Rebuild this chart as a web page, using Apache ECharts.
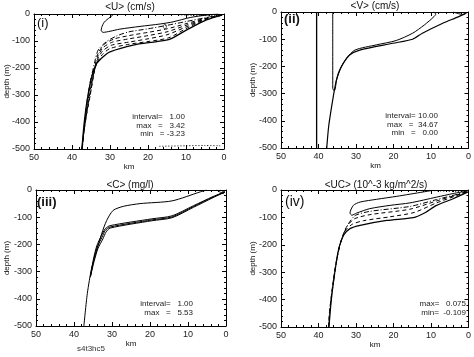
<!DOCTYPE html>
<html><head><meta charset="utf-8">
<script src="https://cdn.jsdelivr.net/npm/echarts@6/dist/echarts.min.js"></script>
<style>html,body{margin:0;padding:0;background:#fff}#c{width:474px;height:357px}</style>
</head><body><div id="c"></div>
<script>
// ---- axis ticks ----
const kmTicks = [50, 40, 30, 20, 10, 0];
const depthTicks = [0, -100, -200, -300, -400, -500];

// ---- panel titles / notes ----
const panelTitles = ['<U> (cm/s)', '<V> (cm/s)', '<C> (mg/l)', '<UC> (10^-3 kg/m^2/s)'];
const panelTags = ['(i)', '(ii)', '(iii)', '(iv)'];
const notesU = ['interval=   1.00', 'max   =   3.42', 'min   = -3.23'];
const notesV = ['interval= 10.00', 'max   =  34.67', 'min   =   0.00'];
const notesC = ['interval=   1.00', 'max   =   5.53'];
const notesUC = ['max=   0.075', 'min=  -0.109'];

// ---- panel (i) <U> contours: [km, depth m] ----
const U_zero = [[28.9,0],[30,-12],[31.5,-30],[32.2,-50],[32.3,-62],[31.8,-68],[30,-64],[27.4,-56],[22.1,-46],[16.8,-37],[13.4,-29],[8.9,-13],[4.6,-4],[1.5,0]];
const U_c1 = [[0.5,-3],[5,-14],[10,-28],[15,-42],[20,-55],[25,-66],[28.2,-81],[30.9,-102],[33.1,-133],[33.9,-170],[34.7,-220],[35.3,-257],[36,-320],[36.7,-400],[37.3,-500]];
const U_c2 = [[0.5,-4],[5,-16],[10,-36],[15,-55],[20,-68],[25,-80],[28.8,-92],[31.5,-112],[33.1,-145],[33.8,-180],[34.5,-230],[35.3,-280],[36,-340],[36.7,-410],[37.3,-500]];
const U_c3 = [[0.5,-4],[5,-18],[10,-42],[15,-66],[20,-80],[25,-92],[29.3,-104],[31.8,-124],[33.2,-158],[33.8,-190],[34.5,-240],[35.2,-300],[36,-360],[36.8,-430],[37.4,-500]];
const U_c4 = [[0.5,-4],[5,-19],[10,-48],[15,-77],[20,-92],[25,-104],[29.7,-116],[32,-138],[33.3,-170],[34,-205],[34.6,-250],[35.4,-310],[36.3,-380],[37,-450],[37.4,-500]];
const U_c5 = [[0.5,-4],[5,-21],[10,-54],[14.5,-88],[20,-102],[25,-112],[30,-128],[32,-150],[33.4,-180],[34.2,-215],[34.9,-260],[35.6,-320],[36.4,-390],[37.1,-460],[37.4,-500]];
const U_c6 = [[0.6,-4],[4.6,-22],[9.8,-59],[14.2,-93],[17.7,-102],[23.9,-115],[30,-140],[31.8,-158],[33.5,-183],[34.8,-232],[36,-319],[36.8,-405],[37.4,-500]];
const U_top = [[12,-3],[8,-5],[4,-6],[1,-4]];
const U_bottom = [[17,-490],[10,-488],[5,-487],[1,-488]];

// ---- panel (ii) <V> contours ----
const V_wall = [[40.5,0],[40.5,-500]];
const V_c1 = [[36.2,0],[36.2,-150],[36.2,-280],[35.8,-290],[35.5,-280],[35.2,-250],[33.9,-201],[32.5,-170],[30.3,-140],[24.6,-121],[19.3,-105],[14.9,-78],[11.8,-48],[9.2,-17],[8.7,-7],[9.4,0]];
const V_c2 = [[0.8,-5],[2.6,-17],[7,-42],[12.3,-78],[14.9,-100],[20.2,-115],[29,-140],[31.7,-158],[33.4,-189],[34.7,-225],[35.6,-275],[36.5,-348],[37.3,-422],[37.8,-500]];
const V_top = [[0.3,-2],[1.5,-9],[3,-5],[4,0]];

// ---- panel (iii) <C> contours ----
const C_c1 = [[5.1,0],[6.8,-7],[14.2,-40],[22.6,-50],[27,-60],[29.7,-75],[31.4,-112],[32.7,-160],[34,-222],[35.3,-283],[36.5,-381],[37.4,-500]];
const C_c2 = [[0.3,-7],[3.4,-24],[8.6,-58],[14.2,-95],[19.5,-106],[30.5,-131],[31.8,-143],[32.8,-168],[34,-205],[34.9,-255],[35.7,-320]];
const C_c3 = [[0.3,-7],[3.4,-26],[8.6,-61],[14.2,-99],[19.5,-110],[30.5,-136],[31.8,-149],[32.6,-173],[33.9,-210],[34.8,-258],[35.7,-320]];
const C_c4 = [[0.3,-8],[3.4,-28],[8.6,-64],[14.2,-102],[19.5,-113],[30.5,-140],[31.6,-155],[32.4,-180],[33.7,-215],[34.7,-262],[35.7,-320]];
const C_top1 = [[2.5,0],[1.5,-8],[0.5,-14]];
const C_top2 = [[1.5,0],[0.8,-5],[0.3,-8]];

// ---- panel (iv) <UC> contours ----
const UC_loop = [[9.4,-1],[12,-7],[19.1,-23],[24.5,-34],[28.9,-44],[30.7,-56],[31.6,-84],[31.1,-92],[29.8,-84],[26.3,-68],[20.9,-56],[15.6,-47],[8.5,-26],[4.1,-13],[0.5,-4]];
const UC_c1 = [[0.5,-7],[8.5,-35],[15.6,-60],[26.3,-78],[30.2,-93],[32,-123],[33.3,-160],[34.4,-208],[35.3,-269],[36.2,-354],[36.9,-439],[37.3,-500]];
const UC_c2 = [[0.5,-7],[8.5,-40],[15.6,-70],[26.3,-90],[30.4,-105],[32.3,-130],[33.5,-165],[34.5,-210],[35.4,-272],[36.3,-356],[37,-440],[37.3,-500]];
const UC_c3 = [[0.4,-7],[8.5,-47],[14.5,-82],[21,-98],[28,-112],[31,-125],[32.8,-148],[33.8,-180],[34.6,-218],[35.5,-285],[36.4,-370],[37.1,-450],[37.3,-500]];
const UC_c4 = [[0.1,-7],[4.1,-32],[8.5,-56],[12,-86],[14.7,-101],[21.8,-111],[28.9,-129],[31.6,-141],[33.3,-165],[34.7,-220],[35.7,-305],[36.6,-403],[37.2,-500]];
const UC_top = [[10,-2],[6,-4],[3,-6],[0.5,-3]];

// ---- layout ----
const grids = [
  {left: 34, top: 14, width: 190, height: 135},
  {left: 281, top: 12, width: 189, height: 136},
  {left: 36, top: 190, width: 190, height: 136},
  {left: 281, top: 190, width: 188, height: 137}
];
const titlePos = [[130, 2], [375, 1], [130, 180], [376, 180]];
const depthLabelX = [3, 249, 3, 249];
const FONT = 'Liberation Sans';
const SOLID = 'solid', DASH = [4, 3], DASHDOT = [5, 2, 1, 2], DOT = [1, 2];

const xAxes = [], yAxes = [];
grids.forEach((g, i) => {
  const base = {
    type: 'value', gridIndex: i, splitLine: {show: false},
    axisLine: {show: true, onZero: false, lineStyle: {color: '#000', width: 1}},
    axisTick: {show: true, inside: true, length: 4, lineStyle: {color: '#000'}},
    minorTick: {show: true, splitNumber: 5, length: 2, lineStyle: {color: '#000'}}
  };
  const lbl = {color: '#222', fontSize: 9, fontFamily: FONT, margin: 4};
  xAxes.push(Object.assign({}, base, {position: 'bottom', min: 0, max: 50, interval: 10, inverse: true, axisLabel: lbl}));
  xAxes.push(Object.assign({}, base, {position: 'top', min: 0, max: 50, interval: 10, inverse: true, axisLabel: {show: false}}));
  yAxes.push(Object.assign({}, base, {position: 'left', min: -500, max: 0, interval: 100, axisLabel: lbl}));
  yAxes.push(Object.assign({}, base, {position: 'right', min: -500, max: 0, interval: 100, axisLabel: {show: false}}));
});

const series = [];
function add(p, data, type, w) {
  series.push({
    type: 'line', xAxisIndex: p * 2, yAxisIndex: p * 2, data: data,
    symbol: 'none', smooth: 0.25, silent: true, animation: false,
    lineStyle: {color: '#000', width: w || 1, type: type}
  });
}
add(0, U_zero, SOLID); add(0, U_c1, DASHDOT); add(0, U_c2, DASH); add(0, U_c3, DASH);
add(0, U_c4, DASH); add(0, U_c5, DASH); add(0, U_c6, SOLID, 1.3); add(0, U_top, DOT); add(0, U_bottom, DOT);
add(1, V_wall, SOLID, 1.3); add(1, V_c1, SOLID); add(1, V_c2, SOLID, 1.2); add(1, V_top, SOLID);
add(2, C_c1, SOLID); add(2, C_c2, SOLID); add(2, C_c3, SOLID); add(2, C_c4, SOLID); add(2, C_top1, SOLID); add(2, C_top2, SOLID);
add(3, UC_loop, SOLID); add(3, UC_c1, DASHDOT); add(3, UC_c2, DASH); add(3, UC_c3, DASH); add(3, UC_c4, SOLID, 1.2); add(3, UC_top, DOT);

const graphic = [];
function txt(x, y, s, opt) {
  graphic.push({type: 'text', x: x, y: y, silent: true, rotation: (opt && opt.rot) || 0,
    style: Object.assign({text: s, fill: '#111', font: '9px ' + FONT, textAlign: 'left', textVerticalAlign: 'top'}, opt && opt.style)});
}
grids.forEach((g, i) => {
  txt(titlePos[i][0], titlePos[i][1], panelTitles[i], {style: {font: '10px ' + FONT, textAlign: 'center'}});
  txt(g.left + g.width / 2, g.top + g.height + 14, 'km', {style: {font: '8px ' + FONT, textAlign: 'center'}});
  txt(depthLabelX[i], g.top + g.height / 2, 'depth (m)', {rot: Math.PI / 2, style: {font: '8px ' + FONT, textAlign: 'center'}});
});

txt(37, 17, panelTags[0], {style: {font: '13px ' + FONT}});
txt(284, 13, panelTags[1], {style: {font: 'bold 13px ' + FONT}});
txt(37, 196, panelTags[2], {style: {font: 'bold 13px ' + FONT}});
txt(285, 195, panelTags[3], {style: {font: '14px ' + FONT}});
txt(163, 24, '0', {style: {font: '7px ' + FONT}});

function notes(lines, xRight, y0) {
  lines.forEach((s, k) => txt(xRight, y0 + k * 8.5, s, {style: {font: '8px ' + FONT, textAlign: 'right', fill: '#222'}}));
}
notes(notesU, 185, 113);
notes(notesV, 438, 112);
notes(notesC, 193, 300);
notes(notesUC, 466, 300);
txt(77, 345, 's4t3hc5', {style: {font: '8px ' + FONT, fill: '#333'}});

const chart = echarts.init(document.getElementById('c'), null, {renderer: 'canvas'});
chart.setOption({
  animation: false, backgroundColor: '#fff',
  grid: grids, xAxis: xAxes, yAxis: yAxes, series: series, graphic: graphic
});
</script></body></html>
